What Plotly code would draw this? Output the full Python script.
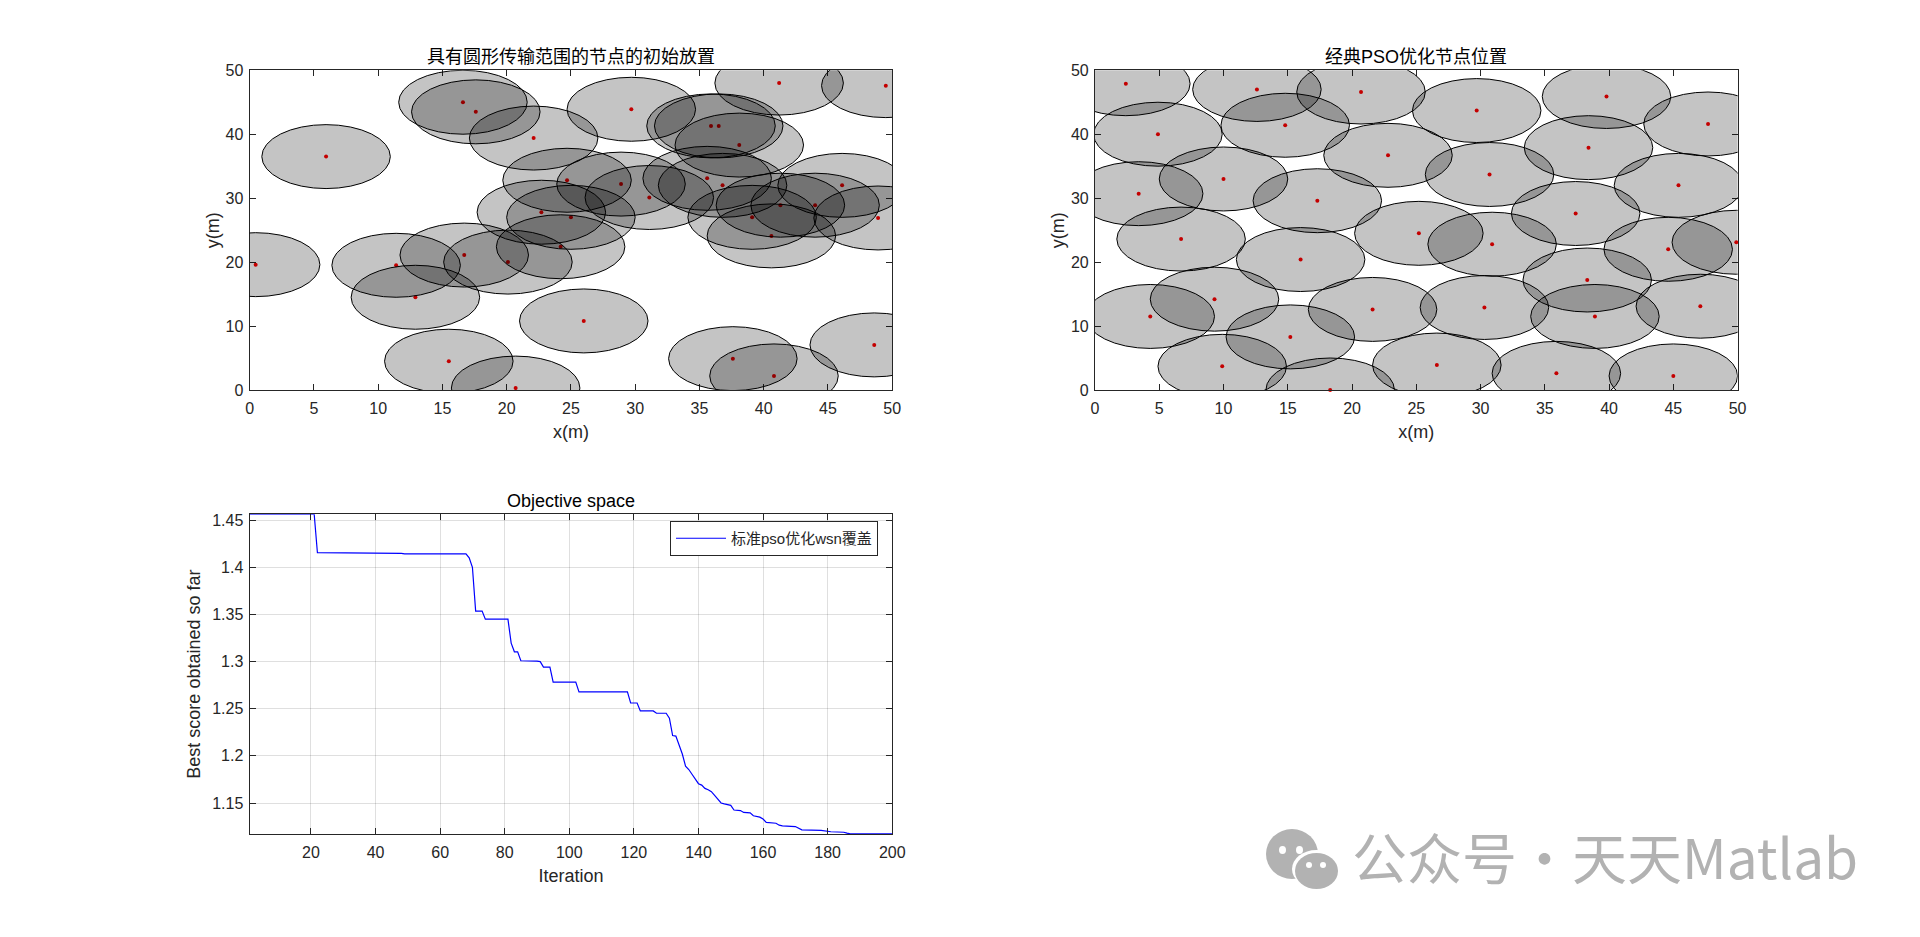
import plotly.graph_objects as go

# 初始节点位置 (m)
init_x = [5.95, 0.47, 16.6, 17.6, 22.1, 29.7, 41.2, 49.5, 35.9, 36.5, 38.1, 24.7, 28.9, 31.1, 35.6, 36.8, 46.1, 41.3,
          44.0, 48.9, 39.1, 40.6, 22.7, 25.0, 24.2, 20.1, 16.7, 11.4, 12.9, 26.0, 15.5, 20.7, 37.6, 40.8, 48.6]
init_y = [36.5, 19.6, 45.0, 43.5, 39.4, 43.9, 48.0, 47.6, 41.3, 41.3, 38.3, 32.8, 32.2, 30.1, 33.1, 32.0, 32.0, 28.9,
          28.9, 26.9, 27.0, 24.1, 27.8, 27.0, 22.4, 20.0, 21.1, 19.5, 14.5, 10.8, 4.5, 0.3, 4.9, 2.2, 7.05]

# PSO优化后的节点位置 (m)
pso_x = [2.4, 12.6, 20.7, 29.7, 39.8, 47.7, 4.9, 14.8, 22.8, 38.4, 10.0, 3.4, 17.3, 30.7, 37.4, 45.4, 6.7, 16.0,
         25.2, 30.9, 44.6, 49.9, 38.3, 9.3, 4.3, 15.2, 21.6, 30.3, 38.9, 47.1, 9.9, 26.6, 35.9, 45.0, 18.3]
pso_y = [47.9, 47.0, 46.6, 43.7, 45.9, 41.6, 40.0, 41.4, 36.7, 37.9, 33.0, 30.7, 29.6, 33.7, 27.6, 32.0, 23.6, 20.4,
         24.5, 22.8, 22.0, 23.1, 17.2, 14.2, 11.5, 8.3, 12.6, 12.9, 11.5, 13.1, 3.7, 3.9, 2.6, 2.2, 0.0]

# 收敛曲线
iters = [1, 21, 22, 40, 41, 48, 49, 68, 69, 70, 71, 73, 74, 81, 82, 83, 84, 85, 90, 91, 92, 94, 95, 102, 103, 118,
         119, 121, 122, 126, 127, 130, 131, 132, 133, 134, 135, 136, 137, 138, 139, 140, 141, 142, 143, 144, 145,
         146, 147, 148, 150, 151, 153, 154, 156, 157, 159, 160, 161, 164, 165, 166, 170, 172, 178, 181, 185, 186,
         187, 200]
best_score = [1.4563, 1.4563, 1.4155, 1.4155, 1.4150, 1.4148, 1.4143, 1.4143, 1.4100, 1.4000, 1.3535, 1.3535, 1.3450,
              1.3450, 1.3196, 1.3104, 1.3104, 1.3009, 1.3005, 1.3000, 1.2942, 1.2942, 1.2783, 1.2783, 1.2678, 1.2678,
              1.2561, 1.2561, 1.2477, 1.2477, 1.2452, 1.2452, 1.2400, 1.2216, 1.2210, 1.2110, 1.2020, 1.1891, 1.1855,
              1.1805, 1.1750, 1.1705, 1.1690, 1.1655, 1.1640, 1.1620, 1.1580, 1.1540, 1.1500, 1.1490, 1.1475, 1.1426,
              1.1420, 1.1400, 1.1395, 1.1365, 1.1350, 1.1330, 1.1295, 1.1285, 1.1265, 1.1258, 1.1250, 1.1215, 1.1210,
              1.1195, 1.1190, 1.1180, 1.1172, 1.1172]

pos_ticks = [0, 5, 10, 15, 20, 25, 30, 35, 40, 45, 50]
y_ticks = [0, 10, 20, 30, 40, 50]
iter_ticks = [20, 40, 60, 80, 100, 120, 140, 160, 180, 200]
score_ticks = [1.15, 1.2, 1.25, 1.3, 1.35, 1.4, 1.45]
score_labels = ['1.15', '1.2', '1.25', '1.3', '1.35', '1.4', '1.45']

sensor_radius = 5
W, H = 1920, 937
FONT = 'Liberation Sans, Noto Sans CJK SC'
DARK = '#262626'


def axis_style(**kw):
    return dict(showline=True, linecolor=DARK, linewidth=1.2, mirror='ticks', ticks='inside', ticklen=6,
                tickcolor=DARK, tickwidth=1, zeroline=False, tickfont=dict(size=16, color=DARK),
                title_font=dict(size=18, color=DARK), **kw)


def circles(xs, ys, xref, yref):
    # 传输范围，直接用数据坐标画圆
    return [dict(type='circle', xref=xref, yref=yref, x0=x - sensor_radius, x1=x + sensor_radius,
                 y0=y - sensor_radius, y1=y + sensor_radius, fillcolor='rgba(0,0,0,0.23)',
                 line=dict(color='black', width=1)) for x, y in zip(xs, ys)]


def px(x):
    return x / W


def py(y):
    return 1 - y / H


def blob(x0, y0, x1, y1, color):
    return dict(type='circle', xref='paper', yref='paper', x0=px(x0), x1=px(x1), y0=py(y1), y1=py(y0),
                fillcolor=color, line=dict(color=color, width=0), layer='above')


fig = go.Figure()
fig.add_trace(go.Scatter(x=init_x, y=init_y, mode='markers', marker=dict(color='red', size=4), showlegend=False,
                         xaxis='x', yaxis='y'))
fig.add_trace(go.Scatter(x=pso_x, y=pso_y, mode='markers', marker=dict(color='red', size=4), showlegend=False,
                         cliponaxis=False, xaxis='x2', yaxis='y2'))
fig.add_trace(go.Scatter(x=iters, y=best_score, mode='lines', line=dict(color='#0000ff', width=1.2),
                         cliponaxis=False, name='标准pso优化wsn覆盖', xaxis='x3', yaxis='y3'))

shapes = circles(init_x, init_y, 'x', 'y') + circles(pso_x, pso_y, 'x2', 'y2')

# 水印图标
WM = '#b2b2b2'
shapes += [
    blob(1266, 829, 1318, 879, WM),
    blob(1292, 850, 1341, 888, 'white'),
    blob(1295, 853, 1338, 889, WM),
    blob(1279, 846, 1286, 854, 'white'),
    blob(1296, 846, 1303, 854, 'white'),
    blob(1306, 862, 1312, 868, 'white'),
    blob(1320, 862, 1326, 868, 'white'),
]

titles = [
    dict(text='具有圆形传输范围的节点的初始放置', xref='x domain', yref='y domain'),
    dict(text='经典PSO优化节点位置', xref='x2 domain', yref='y2 domain'),
    dict(text='Objective space', xref='x3 domain', yref='y3 domain'),
]
annotations = [dict(x=0.5, y=1, xanchor='center', yanchor='bottom', yshift=1, showarrow=False,
                    font=dict(size=18, color='black'), **t) for t in titles]
annotations.append(dict(text='公众号·天天Matlab', x=px(1350), y=py(855), xref='paper', yref='paper',
                        xanchor='left', yanchor='middle', showarrow=False,
                        font=dict(size=55, color=WM, family='Noto Sans CJK SC')))

fig.update_layout(
    width=W, height=H, margin=dict(l=0, r=0, t=0, b=0, autoexpand=False), plot_bgcolor='white', paper_bgcolor='white',
    font=dict(family=FONT),
    xaxis=axis_style(domain=[0.13, 0.4647], range=[0, 50], tickvals=pos_ticks, title_text='x(m)', showgrid=False,
                     ticklabelstandoff=4, title_standoff=9, anchor='y'),
    yaxis=axis_style(domain=[0.5838, 0.925], range=[0, 50], tickvals=y_ticks, title_text='y(m)', showgrid=False,
                     ticklabelstandoff=2, title_standoff=1, anchor='x'),
    xaxis2=axis_style(domain=[0.5703, 0.905], range=[0, 50], tickvals=pos_ticks, title_text='x(m)', showgrid=False,
                      ticklabelstandoff=4, title_standoff=9, anchor='y2'),
    yaxis2=axis_style(domain=[0.5838, 0.925], range=[0, 50], tickvals=y_ticks, title_text='y(m)', showgrid=False,
                      ticklabelstandoff=2, title_standoff=1, anchor='x2'),
    xaxis3=axis_style(domain=[0.13, 0.4647], range=[1, 200], tickvals=iter_ticks, title_text='Iteration',
                      showgrid=True, gridcolor='rgba(38,38,38,0.15)', ticklabelstandoff=4, title_standoff=9,
                      anchor='y3'),
    yaxis3=axis_style(domain=[0.11, 0.4512], range=[1.1172, 1.4563], tickvals=score_ticks, ticktext=score_labels,
                      title_text='Best score obtained so far', showgrid=True, gridcolor='rgba(38,38,38,0.15)',
                      ticklabelstandoff=2, title_standoff=6, anchor='x3'),
    legend=dict(x=878 / W, y=1 - 521 / H, xanchor='right', yanchor='top', bordercolor=DARK, borderwidth=1,
                bgcolor='white', itemwidth=50, font=dict(size=15, color=DARK, family=FONT)),
    shapes=shapes,
    annotations=annotations,
)

# 去掉页面默认的 body 边距，让坐标和窗口对齐
fig.write_html("out.html", post_script="document.body.style.margin='0';", config=dict(displayModeBar=False))
